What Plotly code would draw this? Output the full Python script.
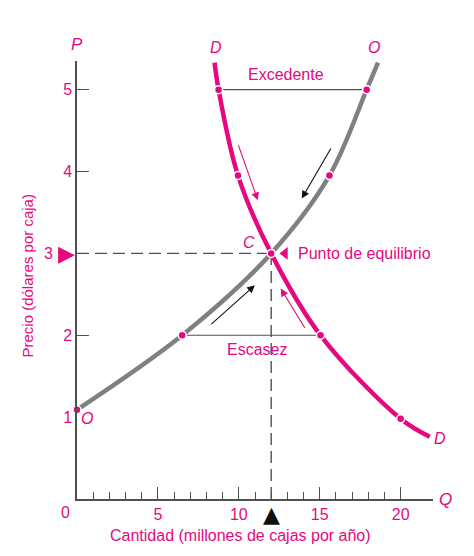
import plotly.graph_objects as go

MAG = "#E5087F"
GRAY = "#808080"
DARK = "#505050"
FONT = "Liberation Sans, Arial, sans-serif"

# Data
demand_q = [8.5, 8.75, 9.95, 12.0, 15.05, 20.0, 21.8]
demand_p = [5.33, 5.0, 3.95, 3.0, 2.0, 0.98, 0.76]
supply_q = [0.0, 6.5, 12.0, 15.6, 17.9, 18.6]
supply_p = [1.09, 2.0, 3.0, 3.95, 5.0, 5.33]
demand_dot_q = [8.75, 9.95, 15.05, 20.0]
demand_dot_p = [5.0, 3.95, 2.0, 0.98]
supply_dot_q = [0.0, 6.5, 15.6, 17.9]
supply_dot_p = [1.09, 2.0, 3.95, 5.0]
eq_q, eq_p = 12.0, 3.0
surplus_q = [8.75, 17.9]
surplus_p = [5.0, 5.0]
shortage_q = [6.5, 15.05]
shortage_p = [2.0, 2.0]
x_ticks = [5, 10, 15, 20]
x_minor = list(range(1, 21))
y_labels = [1, 2, 4, 5]
y_ticks = [2, 4, 5]

XR = [0, 22]
YR = [0, 5.35]

def px(x):
    return (x - XR[0]) / (XR[1] - XR[0])

def py(y):
    return (y - YR[0]) / (YR[1] - YR[0])

fig = go.Figure()

# Surplus / shortage lines
fig.add_trace(go.Scatter(x=surplus_q, y=surplus_p, mode="lines",
                         line=dict(color=DARK, width=1.2), hoverinfo="skip"))
fig.add_trace(go.Scatter(x=shortage_q, y=shortage_p, mode="lines",
                         line=dict(color=DARK, width=1.2), hoverinfo="skip"))
# Dashed equilibrium guides
fig.add_trace(go.Scatter(x=[0, eq_q], y=[eq_p, eq_p], mode="lines",
                         line=dict(color=DARK, width=1.4, dash="12px,6px"), hoverinfo="skip"))
fig.add_trace(go.Scatter(x=[eq_q, eq_q], y=[0, eq_p], mode="lines",
                         line=dict(color=DARK, width=1.4, dash="12px,6px"), hoverinfo="skip"))

# Curves
fig.add_trace(go.Scatter(x=supply_q, y=supply_p, mode="lines",
                         line=dict(color=GRAY, width=4.5, shape="spline", smoothing=1.0),
                         hoverinfo="skip"))
fig.add_trace(go.Scatter(x=demand_q, y=demand_p, mode="lines",
                         line=dict(color=MAG, width=4.5, shape="spline", smoothing=1.0),
                         hoverinfo="skip"))

# Dots
fig.add_trace(go.Scatter(x=demand_dot_q + supply_dot_q + [eq_q],
                         y=demand_dot_p + supply_dot_p + [eq_p], mode="markers",
                         marker=dict(color=MAG, size=8, line=dict(color="white", width=1.5)),
                         cliponaxis=False, hoverinfo="skip"))

# Triangle pointing at equilibrium (inside plot)
fig.add_trace(go.Scatter(x=[12.85], y=[eq_p], mode="markers",
                         marker=dict(symbol="triangle-left", color=MAG, size=11),
                         cliponaxis=False, hoverinfo="skip"))

ann = []
def txt(x, y, t, size=16, color=MAG, italic=False, xanchor="center", yanchor="middle",
        family=FONT):
    ann.append(dict(x=x, y=y, xref="paper", yref="paper", text=(f"<i>{t}</i>" if italic else t),
                    showarrow=False, xanchor=xanchor, yanchor=yanchor,
                    font=dict(family=family, size=size, color=color)))

# letters and labels (positions given in data units, converted to paper)
txt(px(0), py(5.55), "P", size=17, italic=True)
txt(px(22.75), py(0), "Q", size=17, italic=True)
txt(px(8.58), py(5.52), "D", size=16, italic=True)
txt(px(18.33), py(5.52), "O", size=16, italic=True)
txt(px(22.45), py(0.74), "D", size=16, italic=True)
txt(px(0.62), py(0.98), "O", size=16, italic=True)
txt(px(10.62), py(3.13), "C", size=16, italic=True)
txt(px(13.55), py(eq_p), "Punto de equilibrio", size=16, xanchor="left")
txt(px(12.9), py(5.18), "Excedente", size=16)
txt(px(11.1), py(1.82), "Escasez", size=16)
txt(px(-0.74), py(-0.16), "0", size=16)
txt(px(-1.78), py(eq_p), str(int(eq_p)), size=16)
# equilibrium markers outside the plot
txt(px(-0.62), py(eq_p), "\u25B6", size=22, family="DejaVu Sans")
txt(px(eq_q), py(-0.19), "\u25B2", size=22, color="#111111", family="DejaVu Sans")

txt(0.458, -0.083, "Cantidad (millones de cajas por año)", size=16)
ann.append(dict(x=-0.138, y=0.51, xref="paper", yref="paper", text="Precio (dólares por caja)",
                showarrow=False, textangle=-90, xanchor="center", yanchor="middle",
                font=dict(family=FONT, size=15, color=MAG)))

def arrow(x0, y0, x1, y1, color):
    ann.append(dict(x=x1, y=y1, ax=x0, ay=y0, xref="x", yref="y", axref="x", ayref="y",
                    text="", showarrow=True, arrowhead=2, arrowsize=1.4, arrowwidth=1.1,
                    arrowcolor=color))

arrow(9.94, 4.34, 11.17, 3.65, MAG)
arrow(15.74, 4.30, 13.89, 3.67, "#111111")
arrow(8.21, 2.12, 10.99, 2.61, "#111111")
arrow(14.14, 2.07, 12.59, 2.57, MAG)

fig.update_layout(
    width=474, height=556,
    margin=dict(l=77, r=41, t=61, b=57),
    paper_bgcolor="white", plot_bgcolor="white",
    showlegend=False,
    annotations=ann,
    xaxis=dict(range=XR, showgrid=False, zeroline=False,
               showline=True, linecolor=DARK, linewidth=1.5,
               tickmode="array", tickvals=x_ticks, ticktext=[str(v) for v in x_ticks],
               ticks="inside", ticklen=12, tickwidth=1.3, tickcolor=DARK,
               tickfont=dict(family=FONT, size=16, color=MAG),
               minor=dict(tickmode="array", tickvals=x_minor, ticks="inside",
                          ticklen=7, tickwidth=1.3, tickcolor=DARK)),
    yaxis=dict(range=YR, showgrid=False, zeroline=False,
               showline=True, linecolor=DARK, linewidth=1.5,
               tickmode="array", tickvals=y_labels, ticktext=[str(v) for v in y_labels],
               ticks="", tickfont=dict(family=FONT, size=16, color=MAG)),
    yaxis2=dict(range=YR, overlaying="y", side="left", anchor="x",
                showgrid=False, zeroline=False, showline=False,
                tickmode="array", tickvals=y_ticks, showticklabels=False,
                ticks="inside", ticklen=12, tickwidth=1.3, tickcolor=DARK),
)
fig.add_trace(go.Scatter(x=[0], y=[0], yaxis="y2", mode="markers",
                         marker=dict(opacity=0), hoverinfo="skip"))

fig.write_html("out.html")
